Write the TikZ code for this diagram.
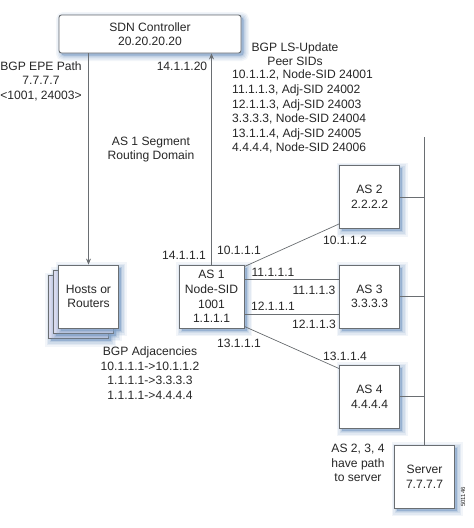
\documentclass[tikz,border=0pt]{standalone}
\usepackage{fontspec}
\setmainfont{Liberation Sans}
\usetikzlibrary{arrows.meta}
\definecolor{linegray}{HTML}{6A6E72}
\definecolor{glowblue}{HTML}{7F9FC6}
\definecolor{stackblue}{HTML}{D9DBEE}
\tikzset{
  glow/.style={preaction={draw=glowblue,line width=11pt,opacity=.10,transform canvas={xshift=2.5pt,yshift=-2.5pt}},
               preaction={draw=glowblue,line width=8pt,opacity=.14,transform canvas={xshift=2.5pt,yshift=-2.5pt}},
               preaction={draw=glowblue,line width=5pt,opacity=.18,transform canvas={xshift=2.5pt,yshift=-2.5pt}},
               preaction={draw=glowblue,line width=2pt,opacity=.25,transform canvas={xshift=2.5pt,yshift=-2.5pt}},
               preaction={fill=glowblue,opacity=.6,transform canvas={xshift=2.5pt,yshift=-2.5pt}}}
}
\begin{document}
\begin{tikzpicture}[
  x=1pt, y=-1pt,
  every node/.style={font=\fontsize{12.1}{14.6}\selectfont, align=center, text=black!85},
  asbox/.style={draw=linegray, line width=0.9pt, fill=white, glow, minimum width=60pt, minimum height=63pt, inner sep=0pt},
  stackbox/.style={asbox, fill=stackblue},
  ctrlbox/.style={asbox, rounded corners=2.5pt, minimum width=182pt, minimum height=38pt},
  link/.style={draw=linegray, line width=0.7pt},
  lbl/.style={inner sep=0pt},
  >={Stealth[length=6pt,width=5pt]}
]
\useasboundingbox (0,0) rectangle (474,528);

\node[stackbox] (H3) at (78,307) {};
\node[stackbox] (H2) at (83.5,301.5) {};
\node[asbox] (H1) at (88.5,296.5) {Hosts or\\Routers};

\node[ctrlbox] (SDN) at (150,34) {SDN Controller\\20.20.20.20};
\node[asbox, minimum width=65pt] (AS1) at (211.5,296.5) {AS 1\\Node-SID\\1001\\1.1.1.1};
\node[asbox] (AS2) at (369.5,197) {AS 2\\2.2.2.2};
\node[asbox] (AS3) at (369.5,296.5) {AS 3\\3.3.3.3};
\node[asbox] (AS4) at (369.5,396.5) {AS 4\\4.4.4.4};
\node[asbox] (SRV) at (424.5,476.5) {Server\\7.7.7.7};

\coordinate (TOP) at (424,137);
\coordinate (B2) at (424,197);
\coordinate (B3) at (424,296.5);
\coordinate (B4) at (424,396.5);

\draw[link,->] (H1.north |- SDN.south) -- (H1.north);
\draw[link,->] (AS1.north) -- (AS1.north |- SDN.south);
\draw[link] ([yshift=-2pt]AS1.north east) -- ([yshift=5pt]AS2.south west);
\draw[link] ([yshift=17.5pt]AS1.east) -- ([yshift=17.5pt]AS3.west);
\draw[link] ([yshift=-17.5pt]AS1.east) -- ([yshift=-17.5pt]AS3.west);
\draw[link] ([yshift=2pt]AS1.south east) -- ([yshift=-4pt]AS4.north west);
\draw[link] (TOP) -- (SRV.north -| TOP);
\draw[link] (AS2.east) -- (B2);
\draw[link] (AS3.east) -- (B3);
\draw[link] (AS4.east) -- (B4);

\node[lbl] (EPE) at (41,81) {BGP EPE Path\\7.7.7.7\\<1001, 24003>};
\node[lbl] (SEG) at (151,149.5) {AS 1 Segment\\Routing Domain};
\node[lbl] (LSHEAD) at (295,54) {BGP LS-Update\\Peer SIDs};
\node[lbl, align=left, anchor=north] (LS) at (302.5,70) {10.1.1.2, Node-SID 24001\\11.1.1.3, Adj-SID 24002\\12.1.1.3, Adj-SID 24003\\3.3.3.3, Node-SID 24004\\13.1.1.4, Adj-SID 24005\\4.4.4.4, Node-SID 24006};
\node[lbl] (ADJ) at (150,373) {BGP Adjacencies\\10.1.1.1->10.1.1.2\\1.1.1.1->3.3.3.3\\1.1.1.1->4.4.4.4};
\node[lbl] (PATH) at (358,463) {AS 2, 3, 4\\have path\\to server};

\node[lbl] (A20) at (182,66) {14.1.1.20};
\node[lbl] (A1) at (184,255) {14.1.1.1};
\node[lbl] (L10) at (239,250) {10.1.1.1};
\node[lbl] (L102) at (345,240) {10.1.1.2};
\node[lbl] (L11) at (273,272) {11.1.1.1};
\node[lbl] (L113) at (314,290) {11.1.1.3};
\node[lbl] (L12) at (273,306) {12.1.1.1};
\node[lbl] (L123) at (314,324) {12.1.1.3};
\node[lbl] (L13) at (239,343) {13.1.1.1};
\node[lbl] (L134) at (345,356) {13.1.1.4};
\node[lbl, rotate=90, font=\fontsize{6}{7}\selectfont] (NUM) at (463,497) {501146};
\end{tikzpicture}
\end{document}
